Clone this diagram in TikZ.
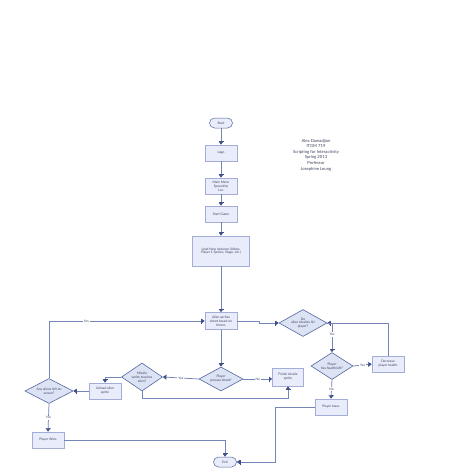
\documentclass[tikz,border=0pt]{standalone}
\usepackage{fontspec}
\setmainfont{Lato}
\usetikzlibrary{arrows.meta,shapes.geometric}
\definecolor{boxfill}{HTML}{E9ECFA}
\definecolor{boxline}{HTML}{A3ADD6}
\definecolor{diafill}{HTML}{DCE3F5}
\definecolor{dialine}{HTML}{55669E}
\definecolor{wire}{HTML}{7685B8}
\definecolor{tip}{HTML}{3F4F8C}
\definecolor{txt}{HTML}{3E4360}
\begin{document}
\begin{tikzpicture}[x=1pt,y=-1pt,
  every node/.style={font=\fontsize{3.3}{3.9}\selectfont, text=txt, align=center, inner sep=0pt},
  procbox/.style={draw=boxline, fill=boxfill, line width=0.6pt, minimum width=32pt, minimum height=16pt},
  termbox/.style={draw=dialine, fill=boxfill, line width=0.5pt, rounded corners=5pt, minimum width=23pt, minimum height=10pt},
  decbox/.style={draw=dialine, fill=diafill, line width=0.6pt, diamond, aspect=1.8, inner sep=0pt},
  conn/.style={draw=wire, line width=0.75pt, -{Bar[width=5pt,line width=0.6pt,sep=0pt,color=tip]Triangle[width=4pt,length=3pt,color=tip]}},
  lab/.style={fill=white, inner sep=1pt}]
\useasboundingbox (0,0) rectangle (474,474);
\fill[white] (0,0) rectangle (474,474);

\node[termbox] (start) at (221,123) {Start};
\node[procbox] (logo) at (221,153) {Logo};
\node[procbox] (menu) at (221,186) {Main Menu\\Spaceship\\Loc};
\node[procbox] (game) at (221,214) {Start Game};
\node[procbox, minimum width=57pt, minimum height=30pt] (load) at (221,251) {Load New Instance (Aliens,\\Player 1 Sprites, Stage, etc.)};
\node[procbox, minimum height=17pt] (alien) at (221,321) {Alien sprites\\shoot based on\\timers};
\node[decbox, minimum width=48pt, minimum height=27pt] (hit) at (303,323) {Do\\alien missiles hit\\player?};
\node[decbox, minimum width=42pt, minimum height=27pt] (health) at (332,366) {Player\\has health left?};
\node[procbox] (decr) at (388,364) {Decrease\\player health};
\node[procbox] (loses) at (331,407) {Player loses};
\node[decbox, minimum width=44pt, minimum height=24pt] (shoot) at (221,379) {Player\\presses shoot?};
\node[procbox, minimum width=31pt, minimum height=18pt] (finish) at (288,377) {Finish missile\\sprite};
\node[decbox, minimum width=41pt, minimum height=28pt] (touch) at (142,377) {Missile\\sprite touches\\alien?};
\node[procbox] (unload) at (105,391) {Unload alien\\sprite};
\node[decbox, minimum width=48pt, minimum height=25pt] (any) at (49,391) {Any aliens left on\\screen?};
\node[procbox] (wins) at (48,440) {Player Wins};
\node[termbox] (exit) at (225,462) {Exit};

\node[font=\fontsize{4.2}{5.6}\selectfont] (author) at (316,155) {Alex Damadjian\\ITGM 719\\Scripting for Interactivity\\Spring 2013\\Professor\\Josephine Leung};

\draw[conn] (start) -- (logo);
\draw[conn] (logo) -- (menu);
\draw[conn] (menu) -- (game);
\draw[conn] (game) -- (load);
\draw[conn] (load) -- (alien);
\draw[conn] (alien.east) -- ++(22,0) |- (hit.west);
\draw[conn] (decr.north) |- (hit.east);
\draw[conn] (hit.east) -| node[lab, pos=0.7] {Yes} (health.north);
\draw[conn] (health.east) -- node[lab] {Yes} (decr.west);
\draw[conn] (health.south) -- node[lab] {No} (loses.north);
\draw[conn] (loses.west) -- ++(-39,0) |- (exit.east);
\draw[conn] (alien.south) -- (shoot.north);
\draw[conn] (shoot.east) -- node[lab] {No} (finish.west |- shoot.east);
\draw[conn] (shoot.west) -- node[lab] {Yes} (touch.east);
\draw[conn] (touch.south) -- ++(0,7) -| (finish.south);
\draw[conn] (touch.west) -| (unload.north);
\draw[conn] (unload.west) -- (any.east);
\draw[conn] (any.south) -- node[lab] {No} (wins.north);
\draw[conn] (any.north) |- node[lab, pos=0.62] {Yes} (alien.west);
\draw[conn] (wins.east) -| (exit.north);
\end{tikzpicture}
\end{document}
